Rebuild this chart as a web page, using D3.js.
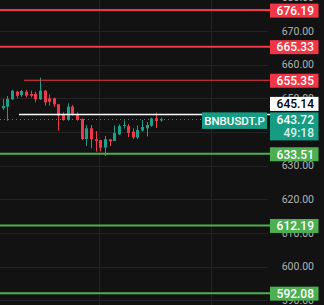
<!DOCTYPE html>
<html><head><meta charset="utf-8">
<script src="https://cdn.jsdelivr.net/npm/d3@7"></script>
<style>html,body{margin:0;padding:0;background:#121212;overflow:hidden}</style>
</head><body><svg id="c" width="324" height="305"></svg>
<script>
const opens  = [647.01,647.49,649.69,651.95,650.97,651.95,651.26,651.26,649.69,652.24,649.98,649.98,648.20,645.23,643.54,647.49,645.23,643.83,637.89,641.07,637.80,637.59,635.35,637.80,637.30,639.29,641.75,641.75,640.06,638.34,640.42,641.07,641.84,644.04,643.54];
const highs  = [649.78,650.67,652.45,652.24,652.50,652.45,652.24,651.95,656.11,652.45,651.17,650.20,648.20,645.80,648.50,648.00,645.80,644.04,642.05,642.05,640.27,637.59,638.78,637.80,641.90,642.26,643.40,642.35,641.07,641.90,643.54,642.94,644.22,645.71,644.22];
const lows   = [646.51,643.33,649.48,649.98,650.40,650.20,650.20,648.80,649.48,647.79,647.79,647.49,640.36,643.33,643.33,644.81,643.33,637.59,635.81,635.13,634.12,634.20,632.84,635.81,637.30,639.08,641.00,638.48,637.89,637.89,640.12,638.63,641.55,641.16,643.03];
const closes = [647.70,649.78,652.24,650.76,652.15,650.76,650.76,649.69,652.24,648.80,648.97,648.20,644.81,643.54,647.49,645.02,643.54,637.89,641.07,637.80,637.30,635.30,637.80,637.20,639.67,641.75,642.05,639.67,638.34,640.56,641.46,642.05,643.98,643.24,643.72];

const gridTicks = [680,670,660,650,640,630,620,610,600,590];
const levelPrices = [676.19,665.33,655.35,633.51,612.19,592.08];
const levelKinds  = ["red","red","red","green","green","green"];
const lastPrice = 643.72;
const markPrice = 645.14;
const symbolName = "BNBUSDT.P";
const countdown = "49:18";

const W=324,H=305, plotR=268;
const svg=d3.select("#c");
const y=d3.scaleLinear().domain([600,670]).range([266.5,30.95]);
const x=d3.scaleLinear().domain([0,opens.length-1]).range([2.7,160.7]);
const RED="#f23645", GREEN="#4caf50", TEAL="#179c84", UP="#1f9e89", DOWN="#ef3a4b";
const FONT="Roboto, 'Noto Sans', sans-serif";

svg.append("rect").attr("width",W).attr("height",H).attr("fill","#121212");
// grid
svg.append("g").selectAll("line").data(gridTicks).join("line")
  .attr("x1",0).attr("x2",plotR).attr("y1",d=>Math.round(y(d))+0.5).attr("y2",d=>Math.round(y(d))+0.5)
  .attr("stroke","#232323").attr("stroke-width",1);
svg.append("g").selectAll("line").data([99.5,211.5]).join("line")
  .attr("x1",d=>d).attr("x2",d=>d).attr("y1",0).attr("y2",H)
  .attr("stroke","#232323").attr("stroke-width",1);
// axis labels
svg.append("g").selectAll("text").data(gridTicks).join("text")
  .attr("x",314).attr("y",d=>y(d)).attr("dy","0.36em").attr("text-anchor","end")
  .attr("font-family",FONT).attr("font-size",10.5).attr("fill","#b2b2b2")
  .text(d=>d.toFixed(2));

// candles
const cg=svg.append("g");
const idx=d3.range(opens.length);
cg.selectAll("line").data(idx).join("line")
  .attr("x1",i=>Math.round(x(i))+0.5).attr("x2",i=>Math.round(x(i))+0.5)
  .attr("y1",i=>y(highs[i])).attr("y2",i=>y(lows[i]))
  .attr("stroke",i=>closes[i]>=opens[i]?UP:DOWN).attr("stroke-width",1);
cg.selectAll("rect").data(idx).join("rect")
  .attr("x",i=>Math.round(x(i))-1).attr("width",3)
  .attr("y",i=>y(Math.max(opens[i],closes[i])))
  .attr("height",i=>Math.max(1,Math.abs(y(opens[i])-y(closes[i]))))
  .attr("fill",i=>closes[i]>=opens[i]?UP:DOWN);

// level lines
const lvStart=[0,0,24,0,0,0], lvWidth=[2,2,1,2,2,2];
svg.append("g").selectAll("line").data(d3.range(levelPrices.length)).join("line")
  .attr("x1",i=>lvStart[i]).attr("x2",270)
  .attr("y1",i=>y(levelPrices[i])).attr("y2",i=>y(levelPrices[i]))
  .attr("stroke",i=>levelKinds[i]==="red"?RED:GREEN).attr("stroke-width",i=>lvWidth[i]);
// mark price line
svg.append("line").attr("x1",19).attr("x2",270).attr("y1",y(markPrice)).attr("y2",y(markPrice))
  .attr("stroke","#ffffff").attr("stroke-width",1.5);
// last price dotted
svg.append("line").attr("x1",0).attr("x2",202).attr("y1",Math.round(y(lastPrice))+0.5).attr("y2",Math.round(y(lastPrice))+0.5)
  .attr("stroke",TEAL).attr("stroke-width",1).attr("stroke-dasharray","1,3");

// level boxes
function box(cy,bg,fg,txt){
  svg.append("rect").attr("x",270).attr("y",cy-6.5).attr("width",48.5).attr("height",14).attr("fill",bg);
  svg.append("text").attr("x",314).attr("y",cy+0.5).attr("dy","0.36em").attr("text-anchor","end")
    .attr("font-family",FONT).attr("font-size",12).attr("font-weight",500).attr("fill",fg).text(txt);
}
levelPrices.forEach((p,i)=>box(y(p),levelKinds[i]==="red"?RED:GREEN,"#ffffff",p.toFixed(2)));
// mark price label pushed up to avoid last-price label
const ly=y(lastPrice);
box(ly-16,"#ffffff","#000000",markPrice.toFixed(2));
// last price box (two lines)
svg.append("rect").attr("x",270).attr("y",ly-7).attr("width",48.5).attr("height",28).attr("fill",TEAL);
svg.append("text").attr("x",314).attr("y",ly+0.5).attr("dy","0.36em").attr("text-anchor","end")
  .attr("font-family",FONT).attr("font-size",12).attr("font-weight",500).attr("fill","#ffffff").text(lastPrice.toFixed(2));
svg.append("text").attr("x",314).attr("y",ly+13).attr("dy","0.36em").attr("text-anchor","end")
  .attr("font-family",FONT).attr("font-size",12).attr("font-weight",500).attr("fill","#d8f0ea").text(countdown);
// symbol box
svg.append("rect").attr("x",202).attr("y",ly-7).attr("width",65).attr("height",16.5).attr("fill",TEAL);
svg.append("text").attr("x",234.5).attr("y",ly+1.2).attr("dy","0.36em").attr("text-anchor","middle")
  .attr("font-family",FONT).attr("font-size",11.5).attr("font-weight",500).attr("fill","#ffffff").text(symbolName);
</script></body></html>
